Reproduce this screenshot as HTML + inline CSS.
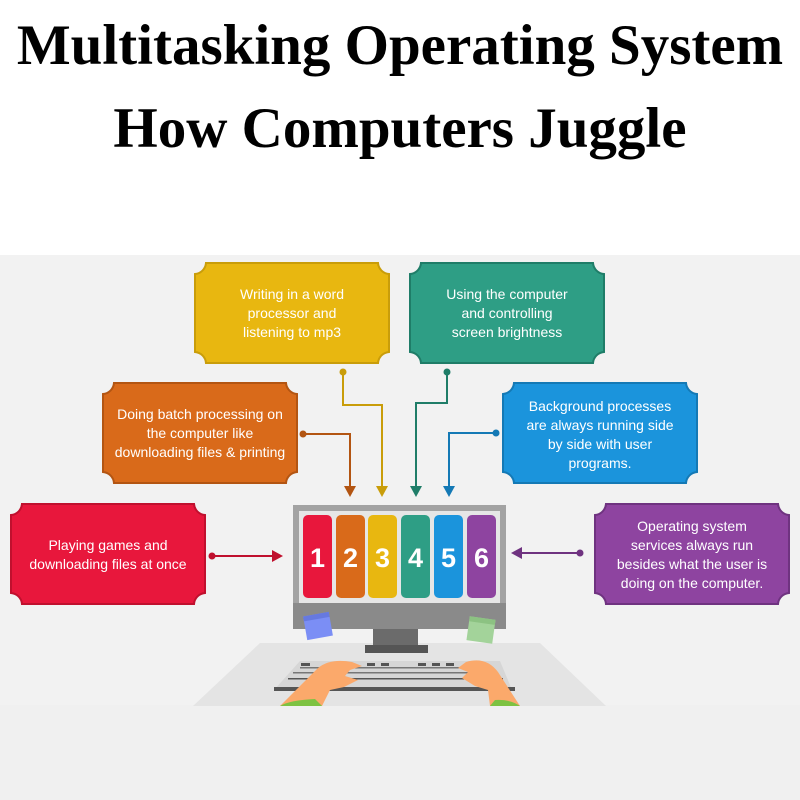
<!DOCTYPE html>
<html><head><style>
body{margin:0;width:800px;height:800px;background:#fff;overflow:hidden;font-family:"Liberation Sans",sans-serif}
.t{position:absolute;left:0;width:800px;text-align:center;font-family:"Liberation Serif",serif;font-weight:bold;font-size:57px;color:#000;line-height:1}
</style></head><body>
<div class="t" style="top:17px">Multitasking Operating System</div>
<div class="t" style="top:100px">How Computers Juggle</div>
<svg width="800" height="800" style="position:absolute;left:0;top:0" xmlns="http://www.w3.org/2000/svg">
<defs>
<symbol id="b" viewBox="0 0 196 102">
<path d="M12,1 H184 A12,12 0 0 0 195,12 V90 A12,12 0 0 0 184,101 H12 A12,12 0 0 0 1,90 V12 A12,12 0 0 0 12,1 Z" stroke-width="2"/>
</symbol>
</defs>
<rect x="0" y="255" width="800" height="450" fill="#f2f2f2"/>
<rect x="0" y="705" width="800" height="95" fill="#f0f0f0"/>
<polygon points="260,643 540,643 606,706 193,706" fill="#e4e4e4"/>
<g font-size="14" fill="#fff" text-anchor="middle">
<use href="#b" x="194" y="262" width="196" height="102" fill="#e8b710" stroke="#c99d0a"/>
<text x="292" y="299">Writing in a word</text><text x="292" y="318">processor and</text><text x="292" y="337">listening to mp3</text>
<use href="#b" x="409" y="262" width="196" height="102" fill="#2e9e85" stroke="#1f7d68"/>
<text x="507" y="299">Using the computer</text><text x="507" y="318">and controlling</text><text x="507" y="337">screen brightness</text>
<use href="#b" x="102" y="382" width="196" height="102" fill="#d96a1a" stroke="#b35512"/>
<text x="200" y="419">Doing batch processing on</text><text x="200" y="438">the computer like</text><text x="200" y="457">downloading files &amp; printing</text>
<use href="#b" x="502" y="382" width="196" height="102" fill="#1b94dc" stroke="#1479b5"/>
<text x="600" y="411">Background processes</text><text x="600" y="430">are always running side</text><text x="600" y="449">by side with user</text><text x="600" y="468">programs.</text>
<use href="#b" x="10" y="503" width="196" height="102" fill="#e8173c" stroke="#c0102e"/>
<text x="108" y="550">Playing games and</text><text x="108" y="569">downloading files at once</text>
<use href="#b" x="594" y="503" width="196" height="102" fill="#8e44a0" stroke="#6f3380"/>
<text x="692" y="531">Operating system</text><text x="692" y="550">services always run</text><text x="692" y="569">besides what the user is</text><text x="692" y="588">doing on the computer.</text>
</g>
<g fill="none" stroke-width="2">
<path d="M343,372 V405 H382 V490" stroke="#c99d0a"/>
<path d="M303,434 H350 V490" stroke="#b35512"/>
<path d="M447,372 V403 H416 V490" stroke="#1f7d68"/>
<path d="M496,433 H449 V490" stroke="#1479b5"/>
<path d="M212,556 H276" stroke="#c0102e"/>
<path d="M580,553 H518" stroke="#6f3380"/>
</g>
<circle cx="343" cy="372" r="3.5" fill="#c99d0a"/><polygon points="376,486 388,486 382,497" fill="#c99d0a"/>
<circle cx="303" cy="434" r="3.5" fill="#b35512"/><polygon points="344,486 356,486 350,497" fill="#b35512"/>
<circle cx="447" cy="372" r="3.5" fill="#1f7d68"/><polygon points="410,486 422,486 416,497" fill="#1f7d68"/>
<circle cx="496" cy="433" r="3.5" fill="#1479b5"/><polygon points="443,486 455,486 449,497" fill="#1479b5"/>
<circle cx="212" cy="556" r="3.5" fill="#c0102e"/><polygon points="272,550 272,562 283,556" fill="#c0102e"/>
<circle cx="580" cy="553" r="3.5" fill="#6f3380"/><polygon points="522,547 522,559 511,553" fill="#6f3380"/>
<rect x="373" y="628" width="45" height="18" fill="#6b6b6b"/>
<rect x="365" y="645" width="63" height="8" fill="#555"/>
<rect x="293" y="505" width="213" height="124" fill="#a3a3a3"/>
<rect x="293" y="603" width="213" height="26" fill="#8a8a8a"/>
<rect x="299" y="511" width="201" height="92" fill="#e6e6e6"/>
<g font-size="27" font-weight="bold" fill="#fff" text-anchor="middle">
<rect x="303" y="515" width="29" height="83" rx="5" fill="#e8173c"/><text x="317.5" y="567">1</text>
<rect x="336" y="515" width="29" height="83" rx="5" fill="#d96a1a"/><text x="350.5" y="567">2</text>
<rect x="368" y="515" width="29" height="83" rx="5" fill="#e8b710"/><text x="382.5" y="567">3</text>
<rect x="401" y="515" width="29" height="83" rx="5" fill="#2e9e85"/><text x="415.5" y="567">4</text>
<rect x="434" y="515" width="29" height="83" rx="5" fill="#1b94dc"/><text x="448.5" y="567">5</text>
<rect x="467" y="515" width="29" height="83" rx="5" fill="#8e44a0"/><text x="481.5" y="567">6</text>
</g>
<g transform="rotate(-10 318 626)"><rect x="305" y="614" width="26" height="24" fill="#7b8ef5"/><rect x="305" y="614" width="26" height="5" fill="#6679e0"/></g>
<g transform="rotate(8 481 630)"><rect x="468" y="618" width="26" height="24" fill="#a3d39a"/><rect x="468" y="618" width="26" height="5" fill="#8cc282"/></g>
<polygon points="300,661 500,661 512,690 274,690" fill="#d6d6d6"/>
<rect x="274" y="687" width="241" height="4" fill="#555"/>
<rect x="288" y="678" width="215" height="1.5" fill="#555"/>
<rect x="293" y="672" width="205" height="1.5" fill="#777"/>
<rect x="300" y="667" width="190" height="1.5" fill="#777"/>
<g fill="#555"><rect x="301" y="663" width="9" height="3"/><rect x="367" y="663" width="8" height="3"/><rect x="381" y="663" width="8" height="3"/><rect x="418" y="663" width="8" height="3"/><rect x="432" y="663" width="8" height="3"/><rect x="446" y="663" width="8" height="3"/></g>
<path d="M280,706 L318,668 Q330,658 352,662 L362,666 L350,670 L345,676 L358,680 L344,687 L330,690 L322,706 Z" fill="#fba96b"/>
<path d="M520,706 L498,672 Q486,656 466,662 L458,668 L468,672 L462,678 L475,686 L488,690 L490,706 Z" fill="#fba96b"/>
<path d="M280,706 Q290,700 315,699 L322,706 Z" fill="#7dc242"/>
<path d="M490,706 L495,700 Q510,699 520,706 Z" fill="#7dc242"/>
</svg>
</body></html>
